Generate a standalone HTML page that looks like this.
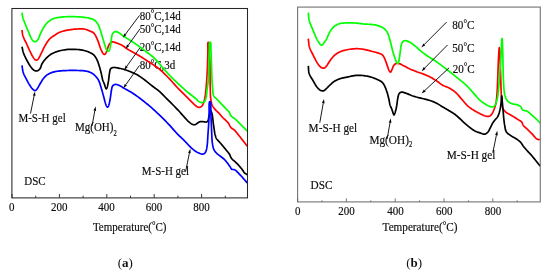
<!DOCTYPE html>
<html><head><meta charset="utf-8"><title>DSC curves</title>
<style>html,body{margin:0;padding:0;background:#fff}body{width:550px;height:275px;position:relative;overflow:hidden}</style>
</head><body>
<svg width="550" height="275" viewBox="0 0 550 275" style="position:absolute;left:0;top:0">
<rect width="550" height="275" fill="#fff"/>
<g font-family="'Liberation Serif',serif" fill="#0d0d0d" stroke="#0d0d0d" stroke-width="0.15">
<text transform="translate(139.70 19.65) scale(1.0 1.14)" font-size="11.0px" text-anchor="start" >80<tspan dy="-2.20" font-size="8.80px">°</tspan><tspan dy="2.20">C,14d</tspan></text>
<text transform="translate(139.70 33.25) scale(1.0 1.14)" font-size="11.0px" text-anchor="start" >50<tspan dy="-2.20" font-size="8.80px">°</tspan><tspan dy="2.20">C,14d</tspan></text>
<text transform="translate(139.70 51.15) scale(1.0 1.14)" font-size="11.0px" text-anchor="start" >20<tspan dy="-2.20" font-size="8.80px">°</tspan><tspan dy="2.20">C,14d</tspan></text>
<text transform="translate(139.70 69.25) scale(1.0 1.14)" font-size="11.0px" text-anchor="start" >80<tspan dy="-2.20" font-size="8.80px">°</tspan><tspan dy="2.20">C,3d</tspan></text>
<text transform="translate(18.40 122.35) scale(1.0 1.14)" font-size="11.0px" text-anchor="start" >M-S-H gel</text>
<text transform="translate(75.00 130.95) scale(1.0 1.14)" font-size="11.0px" text-anchor="start" >Mg(OH)<tspan dy="4.2" font-size="6.60px">2</tspan></text>
<text transform="translate(141.70 174.85) scale(1.0 1.14)" font-size="11.0px" text-anchor="start" >M-S-H gel</text>
<text transform="translate(24.20 185.45) scale(1.0 1.14)" font-size="11.0px" text-anchor="start" >DSC</text>
<text transform="translate(11.80 210.75) scale(1.0 1.14)" font-size="11.0px" text-anchor="middle" >0</text>
<text transform="translate(59.20 210.75) scale(1.0 1.14)" font-size="11.0px" text-anchor="middle" >200</text>
<text transform="translate(106.60 210.75) scale(1.0 1.14)" font-size="11.0px" text-anchor="middle" >400</text>
<text transform="translate(154.00 210.75) scale(1.0 1.14)" font-size="11.0px" text-anchor="middle" >600</text>
<text transform="translate(201.40 210.75) scale(1.0 1.14)" font-size="11.0px" text-anchor="middle" >800</text>
<text transform="translate(92.90 231.45) scale(1.0 1.14)" font-size="11.0px" text-anchor="start" >Temperature(<tspan dy="-2.20" font-size="8.80px">°</tspan><tspan dy="2.20">C)</tspan></text>
</g>
<g fill="none" stroke-linejoin="round" stroke-linecap="butt" stroke-width="1.7" transform="translate(0 0.2)">
<polyline points="22.00,29.80 22.13,30.74 22.23,31.67 22.33,32.60 22.46,33.54 22.64,34.50 22.90,35.50 23.36,36.82 23.95,38.20 24.61,39.62 25.32,41.05 26.03,42.49 26.70,43.90 27.33,45.31 27.97,46.73 28.60,48.16 29.23,49.56 29.87,50.92 30.50,52.20 31.04,53.26 31.60,54.33 32.15,55.36 32.69,56.32 33.21,57.18 33.70,57.90 33.96,58.25 34.22,58.57 34.47,58.85 34.71,59.10 34.95,59.32 35.20,59.50 35.38,59.61 35.57,59.71 35.75,59.79 35.93,59.85 36.12,59.89 36.30,59.90 36.48,59.89 36.67,59.85 36.85,59.79 37.04,59.71 37.22,59.61 37.40,59.50 37.64,59.32 37.87,59.10 38.10,58.85 38.33,58.56 38.56,58.25 38.80,57.90 39.21,57.24 39.62,56.47 40.05,55.61 40.48,54.69 40.94,53.74 41.40,52.80 41.98,51.61 42.58,50.35 43.21,49.04 43.85,47.72 44.51,46.43 45.20,45.20 45.87,44.06 46.56,42.92 47.27,41.80 48.01,40.73 48.78,39.72 49.60,38.80 50.40,38.05 51.24,37.36 52.12,36.72 53.01,36.12 53.87,35.55 54.70,35.00 55.34,34.55 55.93,34.13 56.50,33.73 57.10,33.34 57.76,32.97 58.50,32.60 59.75,32.08 61.17,31.57 62.70,31.09 64.29,30.65 65.91,30.25 67.50,29.90 69.17,29.60 70.89,29.36 72.64,29.16 74.37,29.01 76.04,28.89 77.60,28.80 78.75,28.73 79.85,28.66 80.91,28.62 81.95,28.62 82.97,28.67 84.00,28.80 85.04,29.03 86.09,29.34 87.13,29.71 88.14,30.11 89.10,30.52 90.00,30.90 90.67,31.16 91.30,31.40 91.91,31.64 92.49,31.91 93.05,32.26 93.60,32.70 94.30,33.48 94.96,34.43 95.57,35.50 96.16,36.67 96.74,37.88 97.30,39.10 97.96,40.67 98.58,42.41 99.18,44.22 99.76,46.00 100.33,47.66 100.90,49.10 101.27,49.95 101.62,50.77 101.97,51.54 102.32,52.23 102.70,52.82 103.10,53.30 103.39,53.57 103.69,53.81 104.01,54.02 104.32,54.16 104.62,54.23 104.90,54.20 105.24,53.97 105.56,53.53 105.85,52.95 106.13,52.29 106.41,51.58 106.70,50.90 107.09,49.93 107.45,48.81 107.82,47.64 108.20,46.48 108.62,45.41 109.10,44.50 109.49,43.91 109.90,43.34 110.34,42.83 110.79,42.39 111.28,42.04 111.80,41.80 112.35,41.70 112.92,41.71 113.52,41.82 114.15,41.99 114.81,42.19 115.50,42.40 116.60,42.75 117.81,43.21 119.08,43.73 120.36,44.31 121.59,44.90 122.70,45.50 123.52,46.01 124.26,46.53 124.96,47.08 125.67,47.64 126.43,48.21 127.30,48.80 128.76,49.68 130.39,50.59 132.15,51.54 133.96,52.51 135.76,53.50 137.50,54.50 139.19,55.52 140.86,56.56 142.53,57.61 144.20,58.68 145.89,59.78 147.60,60.90 149.50,62.13 151.46,63.38 153.43,64.66 155.39,65.97 157.29,67.31 159.10,68.70 160.72,70.05 162.28,71.44 163.78,72.86 165.26,74.32 166.72,75.80 168.20,77.30 169.74,78.91 171.25,80.58 172.76,82.27 174.26,83.98 175.77,85.66 177.30,87.30 178.82,88.87 180.36,90.42 181.90,91.96 183.44,93.47 184.94,94.95 186.40,96.40 187.71,97.72 189.07,99.08 190.40,100.42 191.64,101.67 192.73,102.75 193.60,103.60 193.89,103.88 194.13,104.11 194.34,104.31 194.54,104.50 194.76,104.69 195.00,104.90 195.33,105.19 195.68,105.50 196.04,105.82 196.41,106.12 196.80,106.38 197.20,106.60 197.60,106.77 198.01,106.92 198.44,107.04 198.86,107.12 199.29,107.15 199.70,107.10 200.16,106.96 200.62,106.74 201.08,106.46 201.52,106.11 201.93,105.72 202.30,105.30 202.70,104.71 203.04,104.03 203.34,103.28 203.61,102.49 203.86,101.69 204.10,100.90 204.33,100.08 204.54,99.25 204.73,98.40 204.89,97.55 205.05,96.68 205.20,95.80 205.35,94.88 205.47,93.96 205.58,93.02 205.69,92.07 205.79,91.06 205.90,90.00 206.04,88.51 206.18,86.94 206.32,85.30 206.45,83.58 206.58,81.82 206.70,80.00 206.85,77.68 207.00,75.23 207.14,72.69 207.27,70.11 207.39,67.54 207.50,65.00 207.59,62.44 207.67,59.82 207.73,57.20 207.79,54.64 207.85,52.22 207.90,50.00 207.90,48.41 207.86,46.76 207.81,45.18 207.81,43.80 207.89,42.76 208.10,42.20 208.19,42.13 208.29,42.09 208.40,42.08 208.50,42.09 208.61,42.13 208.70,42.20 208.99,42.98 209.16,44.48 209.24,46.47 209.29,48.71 209.33,50.96 209.40,53.00 209.51,54.95 209.63,56.90 209.74,58.88 209.84,60.88 209.93,62.91 210.00,65.00 210.05,67.44 210.07,69.99 210.08,72.58 210.08,75.16 210.08,77.66 210.10,80.00 210.13,81.80 210.15,83.54 210.18,85.22 210.22,86.86 210.26,88.45 210.30,90.00 210.33,91.30 210.36,92.57 210.40,93.81 210.44,95.01 210.51,96.17 210.60,97.30 210.70,98.22 210.80,99.12 210.92,99.99 211.06,100.83 211.22,101.64 211.40,102.40 211.56,102.99 211.74,103.54 211.92,104.07 212.13,104.58 212.35,105.09 212.60,105.60 212.87,106.12 213.16,106.63 213.47,107.14 213.80,107.64 214.18,108.16 214.60,108.70 215.31,109.51 216.16,110.36 217.08,111.24 218.01,112.13 218.91,112.99 219.70,113.80 220.24,114.41 220.73,114.98 221.19,115.55 221.65,116.11 222.15,116.69 222.70,117.30 223.54,118.14 224.49,119.02 225.49,119.93 226.48,120.85 227.40,121.78 228.20,122.70 228.73,123.48 229.18,124.29 229.58,125.10 229.97,125.89 230.40,126.63 230.90,127.30 231.44,127.82 232.02,128.25 232.63,128.65 233.26,129.05 233.89,129.48 234.50,130.00 235.25,130.76 235.98,131.59 236.72,132.49 237.48,133.44 238.26,134.45 239.10,135.50 240.34,137.05 241.67,138.74 243.06,140.53 244.48,142.37 245.91,144.21 247.30,146.00" stroke="#ff0000"/>
<polyline points="22.00,12.40 22.14,13.29 22.26,14.18 22.39,15.06 22.53,15.95 22.69,16.83 22.90,17.70 23.15,18.55 23.44,19.38 23.75,20.20 24.08,21.03 24.44,21.89 24.80,22.80 25.27,23.99 25.78,25.24 26.32,26.53 26.87,27.85 27.43,29.18 28.00,30.50 28.62,31.97 29.26,33.53 29.92,35.11 30.58,36.61 31.21,37.94 31.80,39.00 32.09,39.45 32.37,39.85 32.65,40.20 32.92,40.51 33.20,40.78 33.50,41.00 33.74,41.15 33.99,41.27 34.24,41.37 34.49,41.44 34.75,41.49 35.00,41.50 35.25,41.49 35.51,41.44 35.76,41.37 36.01,41.28 36.26,41.15 36.50,41.00 36.80,40.75 37.09,40.45 37.37,40.09 37.65,39.70 37.92,39.26 38.20,38.80 38.61,38.01 39.01,37.10 39.40,36.11 39.81,35.07 40.24,34.02 40.70,33.00 41.26,31.84 41.86,30.63 42.49,29.41 43.14,28.21 43.81,27.06 44.50,26.00 45.10,25.15 45.71,24.34 46.34,23.57 46.99,22.84 47.67,22.15 48.40,21.50 49.17,20.88 49.98,20.30 50.82,19.75 51.69,19.25 52.58,18.80 53.50,18.40 54.48,18.06 55.48,17.80 56.51,17.59 57.58,17.41 58.67,17.26 59.80,17.10 61.19,16.92 62.65,16.77 64.15,16.64 65.67,16.53 67.20,16.45 68.70,16.40 70.20,16.38 71.72,16.38 73.24,16.42 74.74,16.47 76.20,16.53 77.60,16.60 78.73,16.66 79.82,16.72 80.88,16.79 81.92,16.87 82.96,16.98 84.00,17.10 85.03,17.24 86.05,17.39 87.08,17.55 88.08,17.74 89.06,17.95 90.00,18.20 90.81,18.43 91.60,18.66 92.37,18.91 93.11,19.21 93.82,19.56 94.50,20.00 95.21,20.58 95.88,21.24 96.51,21.98 97.11,22.78 97.67,23.62 98.20,24.50 98.75,25.58 99.23,26.73 99.67,27.95 100.08,29.22 100.48,30.51 100.90,31.80 101.37,33.27 101.82,34.79 102.27,36.35 102.71,37.90 103.16,39.43 103.60,40.90 104.01,42.21 104.42,43.55 104.83,44.87 105.23,46.11 105.62,47.24 106.00,48.20 106.20,48.69 106.40,49.13 106.59,49.54 106.78,49.91 106.98,50.23 107.20,50.50 107.36,50.66 107.52,50.81 107.69,50.93 107.86,51.03 108.03,51.09 108.20,51.10 108.37,51.06 108.55,50.97 108.72,50.83 108.89,50.67 109.05,50.49 109.20,50.30 109.37,50.03 109.52,49.74 109.65,49.41 109.77,49.05 109.88,48.64 110.00,48.20 110.21,47.24 110.40,46.08 110.57,44.80 110.74,43.46 110.92,42.14 111.10,40.90 111.26,39.77 111.40,38.62 111.54,37.48 111.70,36.38 111.92,35.38 112.20,34.50 112.44,33.95 112.70,33.44 112.98,32.96 113.29,32.54 113.63,32.18 114.00,31.90 114.35,31.71 114.73,31.58 115.13,31.49 115.55,31.45 115.97,31.46 116.40,31.50 116.97,31.64 117.58,31.89 118.21,32.20 118.83,32.56 119.44,32.94 120.00,33.30 120.47,33.63 120.89,33.98 121.29,34.34 121.71,34.71 122.17,35.10 122.70,35.50 123.70,36.17 124.86,36.89 126.12,37.65 127.43,38.43 128.74,39.21 130.00,40.00 131.25,40.80 132.50,41.62 133.75,42.44 135.01,43.28 136.26,44.13 137.50,45.00 138.77,45.91 140.02,46.83 141.27,47.77 142.53,48.73 143.80,49.70 145.10,50.70 146.53,51.77 147.97,52.83 149.43,53.91 150.92,55.05 152.44,56.30 154.00,57.70 156.27,59.98 158.67,62.64 161.13,65.49 163.59,68.38 165.97,71.14 168.20,73.60 169.81,75.29 171.35,76.87 172.84,78.37 174.31,79.82 175.79,81.26 177.30,82.70 178.80,84.12 180.32,85.52 181.84,86.90 183.36,88.26 184.88,89.60 186.40,90.90 187.87,92.12 189.38,93.33 190.89,94.52 192.35,95.67 193.74,96.77 195.00,97.80 195.83,98.53 196.60,99.26 197.32,99.96 198.02,100.60 198.71,101.16 199.40,101.60 199.90,101.85 200.40,102.06 200.89,102.23 201.38,102.35 201.85,102.41 202.30,102.40 202.70,102.33 203.10,102.22 203.48,102.05 203.85,101.84 204.19,101.59 204.50,101.30 204.82,100.88 205.09,100.37 205.33,99.80 205.54,99.20 205.72,98.59 205.90,98.00 206.06,97.42 206.20,96.83 206.32,96.24 206.42,95.64 206.51,95.03 206.60,94.40 206.68,93.71 206.75,93.03 206.80,92.34 206.85,91.61 206.92,90.84 207.00,90.00 207.18,88.59 207.40,87.04 207.65,85.38 207.90,83.64 208.12,81.83 208.30,80.00 208.45,77.68 208.56,75.23 208.62,72.69 208.68,70.11 208.73,67.54 208.80,65.00 208.88,62.44 208.96,59.82 209.05,57.20 209.13,54.64 209.21,52.22 209.30,50.00 209.33,48.42 209.31,46.77 209.30,45.20 209.33,43.83 209.45,42.79 209.70,42.20 209.82,42.12 209.95,42.07 210.10,42.05 210.24,42.07 210.38,42.12 210.50,42.20 210.76,42.79 210.90,43.83 210.95,45.20 210.95,46.77 210.96,48.42 211.00,50.00 211.10,52.22 211.18,54.64 211.26,57.20 211.34,59.82 211.42,62.44 211.50,65.00 211.58,67.54 211.65,70.11 211.72,72.69 211.79,75.23 211.89,77.68 212.00,80.00 212.12,81.83 212.25,83.63 212.39,85.38 212.54,87.04 212.68,88.59 212.80,90.00 212.86,90.86 212.89,91.66 212.93,92.42 212.98,93.13 213.06,93.79 213.20,94.40 213.33,94.81 213.48,95.17 213.65,95.52 213.84,95.84 214.06,96.17 214.30,96.50 214.63,96.90 215.01,97.27 215.42,97.64 215.86,98.03 216.32,98.44 216.80,98.90 217.55,99.67 218.37,100.54 219.24,101.46 220.13,102.42 221.03,103.38 221.90,104.30 222.77,105.21 223.68,106.16 224.59,107.10 225.46,108.01 226.28,108.85 227.00,109.60 227.41,110.01 227.79,110.37 228.14,110.70 228.47,111.03 228.79,111.39 229.10,111.80 229.42,112.35 229.68,112.97 229.93,113.61 230.19,114.27 230.50,114.90 230.90,115.50 231.51,116.14 232.23,116.73 233.03,117.29 233.86,117.85 234.70,118.45 235.50,119.10 236.39,119.92 237.27,120.78 238.16,121.69 239.06,122.62 239.97,123.56 240.90,124.50 241.94,125.54 242.99,126.59 244.07,127.67 245.15,128.75 246.23,129.83 247.30,130.90" stroke="#00ff00"/>
<polyline points="22.00,46.50 22.23,47.55 22.45,48.60 22.66,49.64 22.90,50.69 23.17,51.74 23.50,52.80 23.93,53.96 24.42,55.14 24.96,56.32 25.52,57.50 26.11,58.66 26.70,59.80 27.30,60.92 27.93,62.06 28.58,63.19 29.23,64.27 29.88,65.29 30.50,66.20 30.94,66.82 31.38,67.40 31.81,67.94 32.24,68.44 32.67,68.90 33.10,69.30 33.42,69.57 33.74,69.80 34.07,70.02 34.39,70.20 34.70,70.36 35.00,70.50 35.22,70.59 35.44,70.66 35.66,70.72 35.87,70.76 36.08,70.79 36.30,70.80 36.51,70.79 36.72,70.77 36.94,70.74 37.15,70.68 37.37,70.60 37.60,70.50 37.99,70.28 38.42,70.00 38.87,69.67 39.31,69.29 39.73,68.86 40.10,68.40 40.48,67.74 40.78,66.97 41.05,66.14 41.31,65.27 41.62,64.42 42.00,63.60 42.52,62.73 43.09,61.85 43.72,60.98 44.38,60.13 45.08,59.30 45.80,58.50 46.57,57.70 47.37,56.91 48.20,56.14 49.07,55.41 49.97,54.73 50.90,54.10 51.89,53.52 52.91,53.00 53.98,52.52 55.06,52.08 56.17,51.68 57.30,51.30 58.51,50.93 59.74,50.59 61.00,50.29 62.28,50.03 63.58,49.80 64.90,49.60 66.33,49.42 67.79,49.27 69.26,49.17 70.76,49.10 72.27,49.08 73.80,49.10 75.50,49.18 77.29,49.32 79.09,49.50 80.85,49.73 82.50,50.00 84.00,50.30 84.97,50.53 85.86,50.78 86.71,51.05 87.51,51.34 88.31,51.66 89.10,52.00 89.88,52.35 90.66,52.71 91.42,53.09 92.15,53.50 92.85,53.97 93.50,54.50 94.13,55.12 94.71,55.81 95.24,56.54 95.75,57.32 96.23,58.15 96.70,59.00 97.21,60.06 97.68,61.19 98.12,62.37 98.53,63.59 98.92,64.81 99.30,66.00 99.66,67.16 99.99,68.32 100.31,69.49 100.61,70.66 100.91,71.83 101.20,73.00 101.48,74.19 101.73,75.41 101.98,76.63 102.24,77.83 102.50,78.96 102.80,80.00 103.05,80.73 103.32,81.40 103.61,82.04 103.89,82.66 104.15,83.28 104.40,83.90 104.60,84.50 104.79,85.11 104.97,85.71 105.14,86.29 105.31,86.83 105.50,87.30 105.63,87.61 105.76,87.92 105.90,88.22 106.03,88.47 106.17,88.64 106.30,88.70 106.44,88.64 106.57,88.47 106.71,88.22 106.85,87.92 106.98,87.61 107.10,87.30 107.26,86.83 107.41,86.29 107.54,85.72 107.66,85.11 107.78,84.50 107.90,83.90 108.03,83.28 108.15,82.66 108.26,82.04 108.37,81.40 108.49,80.72 108.60,80.00 108.74,78.93 108.88,77.76 109.01,76.53 109.15,75.29 109.31,74.10 109.50,73.00 109.65,72.15 109.78,71.30 109.93,70.48 110.11,69.71 110.36,69.05 110.70,68.50 111.04,68.17 111.42,67.90 111.84,67.68 112.30,67.52 112.79,67.39 113.30,67.30 114.04,67.25 114.84,67.29 115.70,67.40 116.60,67.56 117.50,67.73 118.40,67.90 119.41,68.09 120.44,68.30 121.48,68.53 122.54,68.79 123.61,69.08 124.70,69.40 125.96,69.82 127.25,70.28 128.57,70.79 129.88,71.32 131.16,71.86 132.40,72.40 133.50,72.88 134.57,73.36 135.61,73.85 136.65,74.37 137.67,74.91 138.70,75.50 139.77,76.18 140.82,76.89 141.86,77.64 142.91,78.43 143.98,79.25 145.10,80.10 146.53,81.20 148.06,82.39 149.62,83.64 151.16,84.87 152.64,86.04 154.00,87.10 154.92,87.78 155.76,88.38 156.57,88.94 157.37,89.52 158.20,90.16 159.10,90.90 160.49,92.17 161.97,93.61 163.51,95.18 165.09,96.81 166.66,98.43 168.20,100.00 169.73,101.52 171.27,103.03 172.81,104.55 174.34,106.07 175.84,107.58 177.30,109.10 178.67,110.58 180.04,112.10 181.38,113.63 182.67,115.11 183.89,116.48 185.00,117.70 185.67,118.42 186.28,119.09 186.86,119.71 187.42,120.29 187.99,120.85 188.60,121.40 189.20,121.92 189.82,122.45 190.45,122.95 191.07,123.41 191.69,123.80 192.30,124.10 192.76,124.27 193.22,124.41 193.67,124.51 194.12,124.57 194.56,124.56 195.00,124.50 195.47,124.33 195.92,124.05 196.37,123.72 196.82,123.35 197.26,123.00 197.70,122.70 198.08,122.46 198.45,122.23 198.82,122.00 199.20,121.80 199.59,121.63 200.00,121.50 200.49,121.42 201.02,121.39 201.56,121.39 202.11,121.43 202.66,121.47 203.20,121.50 203.75,121.55 204.33,121.65 204.90,121.75 205.45,121.83 205.96,121.85 206.40,121.80 206.67,121.72 206.91,121.62 207.12,121.49 207.33,121.33 207.52,121.14 207.70,120.90 207.99,120.33 208.22,119.59 208.42,118.73 208.60,117.81 208.79,116.88 209.00,116.00 209.25,114.99 209.51,113.84 209.78,112.67 210.05,111.64 210.33,110.90 210.60,110.60 210.75,110.65 210.91,110.82 211.07,111.07 211.22,111.37 211.37,111.69 211.50,112.00 211.66,112.41 211.81,112.86 211.94,113.34 212.06,113.85 212.18,114.41 212.30,115.00 212.47,116.03 212.63,117.21 212.77,118.48 212.91,119.79 213.05,121.08 213.20,122.30 213.35,123.38 213.49,124.45 213.64,125.51 213.79,126.55 213.95,127.58 214.10,128.60 214.24,129.55 214.37,130.50 214.50,131.43 214.64,132.35 214.81,133.24 215.00,134.10 215.19,134.85 215.41,135.59 215.63,136.32 215.87,137.01 216.13,137.64 216.40,138.20 216.59,138.53 216.79,138.81 216.99,139.07 217.20,139.32 217.44,139.59 217.70,139.90 218.20,140.49 218.78,141.15 219.41,141.85 220.07,142.59 220.74,143.35 221.40,144.10 222.14,144.96 222.89,145.86 223.66,146.78 224.43,147.70 225.18,148.61 225.90,149.50 226.55,150.29 227.19,151.06 227.82,151.82 228.43,152.58 228.99,153.34 229.50,154.10 229.86,154.75 230.14,155.40 230.39,156.04 230.66,156.69 230.98,157.34 231.40,158.00 232.17,158.91 233.11,159.82 234.15,160.74 235.23,161.67 236.31,162.62 237.30,163.60 238.27,164.65 239.26,165.77 240.23,166.91 241.15,168.03 241.99,169.07 242.70,170.00 243.06,170.52 243.35,171.01 243.61,171.47 243.87,171.90 244.16,172.31 244.50,172.70 244.91,173.05 245.36,173.37 245.84,173.66 246.33,173.93 246.82,174.21 247.30,174.50" stroke="#000000"/>
<polyline points="22.00,65.20 22.18,66.37 22.34,67.56 22.49,68.74 22.67,69.91 22.90,71.07 23.20,72.20 23.58,73.29 24.03,74.36 24.52,75.41 25.04,76.45 25.58,77.48 26.10,78.50 26.61,79.50 27.13,80.50 27.66,81.48 28.19,82.45 28.74,83.39 29.30,84.30 29.83,85.11 30.38,85.93 30.94,86.73 31.49,87.47 32.02,88.14 32.50,88.70 32.77,88.99 33.03,89.24 33.28,89.47 33.52,89.67 33.76,89.85 34.00,90.00 34.17,90.10 34.34,90.20 34.51,90.28 34.67,90.34 34.83,90.39 35.00,90.40 35.17,90.39 35.33,90.35 35.50,90.29 35.67,90.21 35.83,90.12 36.00,90.00 36.25,89.78 36.49,89.52 36.74,89.21 36.98,88.86 37.24,88.49 37.50,88.10 37.90,87.47 38.32,86.76 38.75,85.99 39.19,85.19 39.64,84.39 40.10,83.60 40.60,82.75 41.10,81.88 41.62,81.00 42.16,80.13 42.71,79.29 43.30,78.50 43.88,77.79 44.47,77.11 45.08,76.45 45.72,75.83 46.39,75.24 47.10,74.70 47.87,74.19 48.68,73.72 49.52,73.28 50.40,72.89 51.29,72.53 52.20,72.20 53.18,71.89 54.19,71.64 55.22,71.42 56.28,71.23 57.37,71.06 58.50,70.90 59.90,70.73 61.36,70.60 62.86,70.50 64.40,70.42 65.95,70.35 67.50,70.30 69.18,70.26 70.91,70.24 72.66,70.23 74.38,70.24 76.04,70.27 77.60,70.30 78.76,70.32 79.87,70.34 80.94,70.37 81.98,70.42 83.00,70.49 84.00,70.60 84.90,70.73 85.78,70.87 86.65,71.03 87.49,71.23 88.31,71.45 89.10,71.70 89.79,71.96 90.45,72.24 91.10,72.54 91.72,72.87 92.32,73.22 92.90,73.60 93.43,73.99 93.93,74.41 94.42,74.85 94.89,75.31 95.34,75.80 95.80,76.30 96.30,76.86 96.79,77.44 97.27,78.03 97.73,78.67 98.18,79.35 98.60,80.10 99.11,81.19 99.56,82.39 99.99,83.67 100.40,85.01 100.80,86.36 101.20,87.70 101.64,89.15 102.07,90.65 102.49,92.17 102.91,93.68 103.31,95.17 103.70,96.60 104.04,97.86 104.36,99.12 104.68,100.37 104.99,101.56 105.30,102.64 105.60,103.60 105.78,104.13 105.96,104.63 106.14,105.10 106.32,105.52 106.50,105.89 106.70,106.20 106.83,106.37 106.96,106.54 107.09,106.68 107.23,106.80 107.37,106.87 107.50,106.90 107.64,106.87 107.77,106.80 107.91,106.68 108.05,106.54 108.18,106.37 108.30,106.20 108.48,105.89 108.64,105.52 108.78,105.10 108.92,104.63 109.06,104.13 109.20,103.60 109.43,102.63 109.66,101.51 109.88,100.30 110.10,99.04 110.31,97.79 110.50,96.60 110.66,95.52 110.80,94.44 110.94,93.36 111.07,92.31 111.22,91.28 111.40,90.30 111.55,89.47 111.69,88.64 111.84,87.82 112.02,87.06 112.27,86.38 112.60,85.80 112.94,85.40 113.33,85.05 113.75,84.74 114.21,84.49 114.70,84.31 115.20,84.20 115.86,84.19 116.59,84.30 117.35,84.51 118.12,84.79 118.88,85.10 119.60,85.40 120.26,85.71 120.88,86.05 121.48,86.43 122.10,86.83 122.76,87.25 123.50,87.70 124.78,88.42 126.21,89.21 127.74,90.06 129.32,90.95 130.89,91.87 132.40,92.80 133.90,93.79 135.40,94.83 136.89,95.90 138.37,96.98 139.84,98.09 141.30,99.20 142.77,100.33 144.22,101.46 145.67,102.61 147.11,103.78 148.56,104.98 150.00,106.20 151.52,107.52 153.04,108.87 154.56,110.25 156.08,111.65 157.60,113.07 159.10,114.50 160.63,115.97 162.16,117.46 163.68,118.97 165.19,120.50 166.70,122.04 168.20,123.60 169.74,125.25 171.28,126.96 172.81,128.68 174.33,130.39 175.83,132.04 177.30,133.60 178.55,134.86 179.80,136.08 181.03,137.25 182.23,138.38 183.39,139.50 184.50,140.60 185.39,141.53 186.24,142.44 187.07,143.34 187.87,144.22 188.68,145.07 189.50,145.90 190.26,146.64 191.02,147.37 191.78,148.07 192.55,148.75 193.32,149.40 194.10,150.00 194.84,150.53 195.58,151.03 196.33,151.51 197.09,151.95 197.84,152.35 198.60,152.70 199.30,153.00 200.01,153.30 200.73,153.57 201.43,153.77 202.09,153.89 202.70,153.90 203.14,153.82 203.56,153.69 203.96,153.51 204.34,153.28 204.68,153.01 205.00,152.70 205.32,152.29 205.59,151.81 205.82,151.28 206.03,150.71 206.22,150.11 206.40,149.50 206.61,148.71 206.78,147.87 206.93,146.99 207.06,146.06 207.18,145.10 207.30,144.10 207.44,142.73 207.54,141.26 207.64,139.73 207.72,138.15 207.80,136.57 207.90,135.00 208.01,133.36 208.14,131.70 208.26,130.03 208.38,128.35 208.49,126.67 208.60,125.00 208.70,123.35 208.78,121.72 208.87,120.09 208.95,118.44 209.02,116.75 209.10,115.00 209.14,112.63 209.12,109.87 209.09,107.06 209.13,104.52 209.28,102.59 209.60,101.60 209.71,101.52 209.82,101.47 209.95,101.46 210.07,101.47 210.19,101.52 210.30,101.60 210.63,102.59 210.80,104.52 210.85,107.06 210.85,109.87 210.85,112.63 210.90,115.00 210.99,116.75 211.07,118.44 211.16,120.09 211.24,121.72 211.32,123.35 211.40,125.00 211.47,126.68 211.53,128.39 211.59,130.10 211.66,131.78 211.72,133.42 211.80,135.00 211.86,136.29 211.92,137.54 211.98,138.76 212.06,139.95 212.16,141.13 212.30,142.30 212.45,143.40 212.61,144.51 212.80,145.61 213.02,146.67 213.28,147.67 213.60,148.60 213.90,149.30 214.22,149.94 214.57,150.54 214.96,151.13 215.40,151.71 215.90,152.30 216.66,153.07 217.57,153.85 218.55,154.61 219.55,155.37 220.52,156.10 221.40,156.80 222.04,157.33 222.65,157.81 223.24,158.28 223.82,158.77 224.40,159.30 225.00,159.90 225.85,160.86 226.74,161.96 227.64,163.15 228.52,164.33 229.32,165.44 230.00,166.40 230.35,166.94 230.63,167.47 230.89,167.96 231.15,168.41 231.44,168.80 231.80,169.10 232.19,169.26 232.61,169.31 233.07,169.31 233.54,169.30 234.02,169.35 234.50,169.50 235.22,169.92 235.95,170.48 236.70,171.17 237.47,171.93 238.27,172.75 239.10,173.60 240.35,174.89 241.68,176.35 243.07,177.91 244.49,179.52 245.91,181.14 247.30,182.70" stroke="#0000ff"/>
</g>
<line x1="139.5" y1="15.4" x2="125.43" y2="34.27" stroke="#000" stroke-width="0.9"/><polygon points="122.8,37.8 124.35,33.47 126.51,35.08" fill="#000"/>
<line x1="139.9" y1="29" x2="128.17" y2="45.33" stroke="#000" stroke-width="0.9"/><polygon points="125.6,48.9 127.07,44.54 129.26,46.11" fill="#000"/>
<line x1="139.9" y1="47.9" x2="126.76" y2="66.32" stroke="#000" stroke-width="0.9"/><polygon points="124.2,69.9 125.66,65.53 127.85,67.10" fill="#000"/>
<line x1="139.5" y1="65.4" x2="125.84" y2="84.71" stroke="#000" stroke-width="0.9"/><polygon points="123.3,88.3 124.74,83.93 126.94,85.49" fill="#000"/>
<line x1="30.5" y1="113.5" x2="34.12" y2="95.81" stroke="#000" stroke-width="0.9"/><polygon points="35,91.5 35.44,96.08 32.80,95.54" fill="#000"/>
<line x1="92" y1="126" x2="94.81" y2="110.73" stroke="#000" stroke-width="0.9"/><polygon points="95.6,106.4 96.13,110.97 93.48,110.48" fill="#000"/>
<line x1="185.6" y1="171.6" x2="189.42" y2="153.01" stroke="#000" stroke-width="0.9"/><polygon points="190.3,148.7 190.74,153.28 188.09,152.74" fill="#000"/>
<rect x="11.9" y="8.5" width="235.6" height="189.4" fill="none" stroke="#262626" stroke-width="1.05"/>
<path d="M12.00,197.9v-3.9 M35.70,197.9v-2.2 M59.40,197.9v-3.9 M83.10,197.9v-2.2 M106.80,197.9v-3.9 M130.50,197.9v-2.2 M154.20,197.9v-3.9 M177.90,197.9v-2.2 M201.60,197.9v-3.9 M225.30,197.9v-2.2" stroke="#262626" stroke-width="0.9" fill="none"/>
<text x="125.25" y="267.4" text-anchor="middle" font-family="'Liberation Serif',serif" font-size="13px" fill="#111">(<tspan font-weight="bold">a</tspan>)</text>
<g font-family="'Liberation Serif',serif" fill="#0d0d0d" stroke="#0d0d0d" stroke-width="0.15">
<text transform="translate(452.30 29.45) scale(1.0 1.19)" font-size="11.1px" text-anchor="start" >80<tspan dy="-2.22" font-size="8.88px">°</tspan><tspan dy="2.22">C</tspan></text>
<text transform="translate(452.30 52.30) scale(1.0 1.19)" font-size="11.1px" text-anchor="start" >50<tspan dy="-2.22" font-size="8.88px">°</tspan><tspan dy="2.22">C</tspan></text>
<text transform="translate(452.70 72.75) scale(1.0 1.19)" font-size="11.1px" text-anchor="start" >20<tspan dy="-2.22" font-size="8.88px">°</tspan><tspan dy="2.22">C</tspan></text>
<text transform="translate(308.60 131.65) scale(1.0 1.17)" font-size="11.3px" text-anchor="start" >M-S-H gel</text>
<text transform="translate(369.40 143.55) scale(1.0 1.17)" font-size="11.3px" text-anchor="start" >Mg(OH)<tspan dy="3.2" font-size="6.55px">2</tspan></text>
<text transform="translate(446.80 158.65) scale(1.0 1.17)" font-size="11.3px" text-anchor="start" >M-S-H gel</text>
<text transform="translate(310.50 188.95) scale(1.0 1.17)" font-size="11.3px" text-anchor="start" >DSC</text>
<text transform="translate(297.80 215.45) scale(1.0 1.14)" font-size="11.0px" text-anchor="middle" >0</text>
<text transform="translate(346.60 215.45) scale(1.0 1.14)" font-size="11.0px" text-anchor="middle" >200</text>
<text transform="translate(395.40 215.45) scale(1.0 1.14)" font-size="11.0px" text-anchor="middle" >400</text>
<text transform="translate(444.20 215.45) scale(1.0 1.14)" font-size="11.0px" text-anchor="middle" >600</text>
<text transform="translate(493.00 215.45) scale(1.0 1.14)" font-size="11.0px" text-anchor="middle" >800</text>
<text transform="translate(382.60 231.45) scale(1.0 1.12)" font-size="11.2px" text-anchor="start" >Temperature(<tspan dy="-2.24" font-size="8.96px">°</tspan><tspan dy="2.24">C)</tspan></text>
</g>
<g fill="none" stroke-linejoin="round" stroke-linecap="butt" stroke-width="1.7" transform="translate(0 0.2)">
<polyline points="308.30,38.40 308.47,39.86 308.60,41.32 308.74,42.79 308.91,44.24 309.15,45.68 309.50,47.10 309.99,48.52 310.58,49.92 311.25,51.30 311.97,52.67 312.69,54.03 313.40,55.40 314.10,56.82 314.83,58.29 315.56,59.75 316.31,61.16 317.06,62.46 317.80,63.60 318.34,64.33 318.90,65.02 319.46,65.65 320.00,66.22 320.52,66.71 321.00,67.10 321.25,67.28 321.49,67.42 321.73,67.54 321.95,67.64 322.18,67.72 322.40,67.80 322.59,67.86 322.77,67.91 322.95,67.96 323.13,67.99 323.31,68.00 323.50,68.00 323.71,67.98 323.93,67.95 324.14,67.89 324.36,67.82 324.58,67.72 324.80,67.60 325.11,67.37 325.42,67.08 325.72,66.74 326.03,66.36 326.36,65.94 326.70,65.50 327.27,64.71 327.86,63.80 328.49,62.80 329.14,61.77 329.81,60.75 330.50,59.80 331.19,58.90 331.90,58.00 332.63,57.11 333.38,56.25 334.17,55.45 335.00,54.70 335.86,54.02 336.76,53.39 337.69,52.80 338.66,52.26 339.66,51.76 340.70,51.30 341.89,50.85 343.13,50.46 344.41,50.11 345.73,49.81 347.06,49.54 348.40,49.30 349.85,49.07 351.33,48.87 352.84,48.70 354.35,48.58 355.85,48.51 357.30,48.50 358.63,48.55 359.94,48.65 361.24,48.80 362.51,48.98 363.77,49.18 365.00,49.40 366.11,49.62 367.19,49.87 368.25,50.15 369.30,50.43 370.34,50.72 371.40,51.00 372.47,51.27 373.55,51.54 374.63,51.81 375.69,52.09 376.72,52.38 377.70,52.70 378.52,52.97 379.34,53.22 380.13,53.49 380.88,53.79 381.57,54.16 382.20,54.60 382.73,55.12 383.19,55.70 383.59,56.33 383.96,57.02 384.33,57.74 384.70,58.50 385.17,59.55 385.63,60.71 386.06,61.93 386.49,63.17 386.90,64.38 387.30,65.50 387.63,66.42 387.94,67.35 388.25,68.26 388.55,69.11 388.87,69.87 389.20,70.50 389.41,70.84 389.63,71.17 389.85,71.47 390.07,71.71 390.29,71.86 390.50,71.90 390.76,71.75 391.02,71.41 391.27,70.94 391.51,70.39 391.76,69.82 392.00,69.30 392.27,68.70 392.52,68.03 392.76,67.35 393.01,66.68 393.29,66.05 393.60,65.50 393.87,65.10 394.15,64.73 394.44,64.38 394.76,64.07 395.11,63.81 395.50,63.60 396.05,63.42 396.68,63.32 397.35,63.29 398.05,63.31 398.74,63.38 399.40,63.50 400.04,63.68 400.65,63.93 401.26,64.24 401.88,64.58 402.52,64.94 403.20,65.30 404.16,65.79 405.18,66.34 406.24,66.92 407.33,67.51 408.42,68.08 409.50,68.60 410.54,69.07 411.58,69.51 412.62,69.93 413.68,70.35 414.77,70.77 415.90,71.20 417.32,71.73 418.85,72.26 420.41,72.81 421.96,73.35 423.44,73.88 424.80,74.40 425.75,74.78 426.63,75.14 427.47,75.50 428.30,75.86 429.13,76.26 430.00,76.70 431.04,77.27 432.11,77.88 433.18,78.54 434.26,79.22 435.34,79.91 436.40,80.60 437.46,81.32 438.50,82.09 439.53,82.87 440.58,83.63 441.63,84.35 442.70,85.00 443.75,85.53 444.82,85.99 445.89,86.41 446.97,86.82 448.05,87.28 449.10,87.80 450.19,88.41 451.28,89.06 452.36,89.74 453.43,90.47 454.48,91.26 455.50,92.10 456.60,93.13 457.66,94.26 458.70,95.45 459.72,96.68 460.75,97.91 461.80,99.10 462.85,100.29 463.90,101.52 464.96,102.74 466.02,103.93 467.10,105.06 468.20,106.10 469.22,106.95 470.27,107.74 471.33,108.48 472.39,109.19 473.45,109.85 474.50,110.50 475.44,111.06 476.38,111.59 477.32,112.09 478.25,112.58 479.18,113.04 480.10,113.50 480.96,113.94 481.83,114.38 482.69,114.81 483.55,115.21 484.38,115.55 485.20,115.80 485.87,115.96 486.53,116.10 487.19,116.20 487.83,116.24 488.43,116.21 489.00,116.10 489.47,115.92 489.92,115.68 490.34,115.38 490.74,115.03 491.12,114.63 491.50,114.20 491.99,113.53 492.46,112.75 492.91,111.88 493.33,110.97 493.72,110.03 494.10,109.10 494.48,108.10 494.84,107.06 495.17,106.00 495.48,104.92 495.75,103.82 496.00,102.70 496.22,101.50 496.40,100.30 496.54,99.08 496.66,97.80 496.78,96.45 496.90,95.00 497.07,92.70 497.22,90.18 497.35,87.50 497.47,84.72 497.58,81.90 497.70,79.10 497.83,75.94 497.94,72.60 498.05,69.22 498.16,65.91 498.28,62.79 498.40,60.00 498.49,58.26 498.58,56.60 498.68,55.03 498.77,53.57 498.86,52.22 498.95,51.00 499.00,50.25 499.03,49.49 499.07,48.77 499.11,48.16 499.17,47.72 499.25,47.50 499.27,47.49 499.28,47.48 499.30,47.48 499.32,47.48 499.33,47.49 499.35,47.50 499.44,47.72 499.51,48.16 499.58,48.77 499.64,49.49 499.69,50.25 499.75,51.00 499.84,52.24 499.92,53.63 500.00,55.14 500.07,56.73 500.13,58.36 500.20,60.00 500.27,61.97 500.34,64.00 500.41,66.09 500.47,68.24 500.53,70.44 500.60,72.70 500.68,75.48 500.75,78.44 500.83,81.47 500.91,84.47 501.00,87.35 501.10,90.00 501.18,91.87 501.26,93.66 501.35,95.36 501.45,97.01 501.56,98.62 501.70,100.20 501.81,101.57 501.89,102.93 501.99,104.26 502.14,105.54 502.36,106.73 502.70,107.80 503.04,108.55 503.43,109.23 503.86,109.86 504.35,110.45 504.90,111.02 505.50,111.60 506.38,112.31 507.40,112.97 508.50,113.61 509.65,114.23 510.80,114.86 511.90,115.50 512.99,116.18 514.12,116.87 515.24,117.57 516.33,118.25 517.36,118.90 518.30,119.50 518.91,119.87 519.50,120.19 520.05,120.50 520.58,120.82 521.06,121.18 521.50,121.60 521.89,122.13 522.19,122.74 522.45,123.38 522.72,124.04 523.02,124.69 523.40,125.30 523.93,125.93 524.52,126.52 525.16,127.09 525.83,127.67 526.52,128.27 527.20,128.90 528.01,129.70 528.85,130.53 529.71,131.39 530.57,132.27 531.44,133.14 532.30,134.00 533.16,134.92 534.02,135.92 534.89,136.92 535.75,137.83 536.59,138.59 537.40,139.10 537.90,139.27 538.39,139.34 538.87,139.35 539.34,139.32 539.82,139.29 540.30,139.30" stroke="#ff0000"/>
<polyline points="308.30,12.40 308.42,13.71 308.52,15.03 308.61,16.34 308.74,17.65 308.92,18.97 309.20,20.30 309.62,21.76 310.15,23.23 310.75,24.70 311.39,26.18 312.05,27.68 312.70,29.20 313.42,30.97 314.20,32.86 314.99,34.77 315.77,36.60 316.52,38.24 317.20,39.60 317.54,40.21 317.87,40.74 318.19,41.22 318.50,41.66 318.80,42.08 319.10,42.50 319.34,42.86 319.57,43.21 319.80,43.56 320.03,43.88 320.26,44.16 320.50,44.40 320.68,44.55 320.86,44.69 321.04,44.82 321.23,44.92 321.41,44.98 321.60,45.00 321.80,44.97 322.00,44.90 322.19,44.79 322.40,44.65 322.60,44.48 322.80,44.30 323.13,43.94 323.47,43.47 323.82,42.94 324.16,42.40 324.49,41.87 324.80,41.40 325.03,41.09 325.24,40.82 325.44,40.56 325.65,40.29 325.86,39.98 326.10,39.60 326.63,38.60 327.20,37.33 327.82,35.90 328.48,34.42 329.18,32.98 329.90,31.70 330.58,30.63 331.28,29.58 332.00,28.57 332.76,27.62 333.56,26.76 334.40,26.00 335.17,25.43 335.97,24.93 336.80,24.50 337.66,24.12 338.56,23.79 339.50,23.50 340.65,23.23 341.88,23.03 343.15,22.90 344.45,22.81 345.78,22.75 347.10,22.70 348.55,22.66 350.04,22.66 351.55,22.68 353.06,22.73 354.55,22.81 356.00,22.90 357.30,23.01 358.56,23.16 359.80,23.33 361.04,23.50 362.30,23.66 363.60,23.80 365.07,23.91 366.60,23.99 368.15,24.05 369.69,24.13 371.18,24.24 372.60,24.40 373.75,24.57 374.86,24.75 375.93,24.96 376.98,25.20 378.00,25.47 379.00,25.80 379.92,26.14 380.83,26.52 381.71,26.93 382.56,27.37 383.36,27.86 384.10,28.40 384.73,28.94 385.32,29.50 385.86,30.11 386.37,30.76 386.84,31.45 387.30,32.20 387.81,33.21 388.27,34.33 388.69,35.51 389.07,36.74 389.44,37.98 389.80,39.20 390.16,40.46 390.50,41.76 390.81,43.06 391.12,44.36 391.41,45.61 391.70,46.80 391.92,47.71 392.13,48.57 392.32,49.41 392.53,50.24 392.75,51.09 393.00,52.00 393.36,53.21 393.78,54.53 394.22,55.88 394.67,57.21 395.11,58.43 395.50,59.50 395.73,60.11 395.94,60.68 396.14,61.22 396.35,61.71 396.56,62.14 396.80,62.50 396.96,62.70 397.13,62.90 397.31,63.07 397.48,63.21 397.65,63.29 397.80,63.30 397.95,63.23 398.10,63.07 398.23,62.85 398.36,62.58 398.48,62.30 398.60,62.00 398.77,61.47 398.92,60.85 399.04,60.16 399.16,59.41 399.27,58.62 399.40,57.80 399.60,56.48 399.80,54.99 400.00,53.40 400.20,51.81 400.40,50.28 400.60,48.90 400.73,47.95 400.85,47.03 400.96,46.14 401.10,45.31 401.27,44.53 401.50,43.80 401.72,43.26 401.96,42.74 402.22,42.24 402.52,41.80 402.84,41.41 403.20,41.10 403.56,40.88 403.95,40.72 404.36,40.60 404.80,40.53 405.24,40.50 405.70,40.50 406.28,40.57 406.89,40.70 407.51,40.90 408.16,41.16 408.82,41.46 409.50,41.80 410.50,42.38 411.55,43.09 412.64,43.90 413.74,44.76 414.83,45.64 415.90,46.50 416.98,47.40 418.04,48.35 419.10,49.32 420.16,50.28 421.22,51.22 422.30,52.10 423.34,52.89 424.38,53.64 425.43,54.37 426.48,55.09 427.54,55.79 428.60,56.50 429.64,57.18 430.66,57.82 431.69,58.46 432.74,59.11 433.83,59.82 435.00,60.60 436.75,61.83 438.66,63.21 440.65,64.69 442.66,66.20 444.63,67.69 446.50,69.10 448.06,70.28 449.56,71.43 451.02,72.55 452.48,73.69 453.96,74.86 455.50,76.10 457.37,77.61 459.35,79.21 461.36,80.85 463.33,82.50 465.20,84.13 466.90,85.70 468.11,86.90 469.21,88.08 470.25,89.23 471.26,90.39 472.27,91.54 473.30,92.70 474.36,93.90 475.41,95.13 476.46,96.36 477.51,97.56 478.56,98.68 479.60,99.70 480.45,100.45 481.30,101.13 482.14,101.77 482.98,102.37 483.84,102.94 484.70,103.50 485.55,104.03 486.42,104.55 487.29,105.05 488.16,105.51 489.00,105.89 489.80,106.20 490.38,106.39 490.95,106.55 491.50,106.68 492.03,106.76 492.54,106.77 493.00,106.70 493.37,106.57 493.72,106.38 494.04,106.14 494.34,105.86 494.63,105.54 494.90,105.20 495.22,104.71 495.49,104.14 495.74,103.52 495.96,102.86 496.18,102.18 496.40,101.50 496.65,100.73 496.88,99.94 497.10,99.13 497.31,98.28 497.51,97.38 497.70,96.40 497.95,94.84 498.17,93.11 498.37,91.27 498.56,89.35 498.73,87.42 498.90,85.50 499.07,83.43 499.23,81.31 499.38,79.16 499.52,77.00 499.65,74.84 499.80,72.70 499.95,70.56 500.11,68.38 500.27,66.21 500.42,64.07 500.57,61.99 500.70,60.00 500.80,58.43 500.90,56.94 500.98,55.50 501.07,54.05 501.16,52.57 501.25,51.00 501.35,48.75 501.45,46.10 501.55,43.39 501.66,40.96 501.79,39.19 501.95,38.40 501.97,38.39 501.98,38.38 502.00,38.38 502.02,38.38 502.03,38.39 502.05,38.40 502.21,39.19 502.35,40.96 502.45,43.39 502.54,46.10 502.62,48.75 502.70,51.00 502.76,52.55 502.80,53.99 502.84,55.38 502.87,56.81 502.91,58.32 502.95,60.00 503.01,62.82 503.07,65.98 503.12,69.34 503.19,72.75 503.28,76.05 503.40,79.10 503.51,81.48 503.63,83.84 503.76,86.14 503.91,88.30 504.09,90.28 504.30,92.00 504.43,92.87 504.57,93.65 504.71,94.36 504.87,95.04 505.07,95.70 505.30,96.40 505.57,97.17 505.87,97.95 506.20,98.73 506.57,99.48 507.00,100.17 507.50,100.80 508.09,101.36 508.76,101.85 509.49,102.29 510.27,102.69 511.07,103.05 511.90,103.40 512.92,103.74 514.04,104.01 515.21,104.24 516.35,104.46 517.40,104.70 518.30,105.00 518.81,105.22 519.27,105.43 519.69,105.65 520.08,105.89 520.44,106.17 520.80,106.50 521.15,106.96 521.43,107.52 521.69,108.12 521.96,108.72 522.28,109.26 522.70,109.70 523.31,110.04 524.04,110.25 524.84,110.39 525.67,110.52 526.47,110.71 527.20,111.00 527.88,111.42 528.51,111.91 529.12,112.45 529.72,113.02 530.35,113.61 531.00,114.20 531.82,114.89 532.67,115.60 533.55,116.34 534.42,117.09 535.28,117.84 536.10,118.60 536.84,119.32 537.55,120.05 538.24,120.79 538.92,121.53 539.61,122.26 540.30,123.00" stroke="#00ff00"/>
<polyline points="308.30,65.60 308.42,66.93 308.49,68.28 308.57,69.63 308.69,70.96 308.89,72.26 309.20,73.50 309.63,74.62 310.17,75.69 310.77,76.72 311.42,77.74 312.07,78.76 312.70,79.80 313.32,80.89 313.94,82.02 314.57,83.14 315.21,84.23 315.85,85.26 316.50,86.20 317.03,86.90 317.57,87.57 318.12,88.21 318.66,88.79 319.19,89.29 319.70,89.70 320.01,89.91 320.32,90.07 320.62,90.21 320.92,90.32 321.21,90.42 321.50,90.50 321.74,90.57 321.98,90.62 322.21,90.67 322.44,90.70 322.67,90.71 322.90,90.70 323.14,90.67 323.37,90.61 323.60,90.53 323.83,90.44 324.07,90.33 324.30,90.20 324.59,90.02 324.88,89.80 325.16,89.56 325.46,89.30 325.77,89.01 326.10,88.70 326.65,88.17 327.25,87.56 327.89,86.90 328.55,86.22 329.22,85.55 329.90,84.90 330.60,84.24 331.31,83.58 332.04,82.92 332.79,82.27 333.57,81.66 334.40,81.10 335.35,80.54 336.36,80.02 337.40,79.54 338.48,79.10 339.58,78.68 340.70,78.30 341.92,77.94 343.17,77.62 344.45,77.35 345.75,77.10 347.07,76.85 348.40,76.60 349.85,76.31 351.34,76.00 352.84,75.70 354.35,75.43 355.84,75.22 357.30,75.10 358.62,75.07 359.93,75.09 361.23,75.17 362.51,75.29 363.77,75.43 365.00,75.60 366.11,75.77 367.19,75.96 368.25,76.18 369.31,76.42 370.35,76.70 371.40,77.00 372.48,77.35 373.56,77.73 374.64,78.15 375.70,78.59 376.72,79.04 377.70,79.50 378.53,79.89 379.34,80.28 380.13,80.68 380.88,81.11 381.57,81.57 382.20,82.10 382.72,82.64 383.17,83.21 383.58,83.83 383.96,84.48 384.33,85.17 384.70,85.90 385.18,86.92 385.64,88.04 386.09,89.22 386.51,90.45 386.92,91.68 387.30,92.90 387.67,94.16 388.02,95.47 388.35,96.79 388.66,98.09 388.94,99.34 389.20,100.50 389.37,101.32 389.50,102.09 389.62,102.83 389.75,103.55 389.90,104.27 390.10,105.00 390.37,105.76 390.68,106.52 391.02,107.27 391.37,108.02 391.70,108.76 392.00,109.50 392.24,110.20 392.47,110.94 392.68,111.66 392.89,112.35 393.09,112.98 393.30,113.50 393.42,113.77 393.54,114.05 393.65,114.30 393.77,114.51 393.88,114.65 394.00,114.70 394.12,114.65 394.23,114.51 394.35,114.31 394.47,114.05 394.58,113.78 394.70,113.50 394.92,112.92 395.15,112.21 395.38,111.42 395.60,110.59 395.81,109.77 396.00,109.00 396.16,108.34 396.30,107.69 396.43,107.06 396.55,106.41 396.67,105.73 396.80,105.00 396.96,103.93 397.11,102.75 397.26,101.52 397.42,100.29 397.60,99.10 397.80,98.00 397.97,97.16 398.13,96.32 398.31,95.51 398.52,94.76 398.77,94.08 399.10,93.50 399.39,93.12 399.72,92.77 400.07,92.47 400.45,92.22 400.86,92.03 401.30,91.90 401.92,91.86 402.61,91.94 403.35,92.12 404.12,92.37 404.91,92.64 405.70,92.90 406.70,93.25 407.75,93.68 408.83,94.15 409.92,94.63 411.01,95.09 412.10,95.50 413.15,95.86 414.20,96.19 415.26,96.50 416.32,96.81 417.40,97.10 418.50,97.40 419.72,97.70 420.96,97.98 422.22,98.26 423.50,98.54 424.79,98.85 426.10,99.20 427.58,99.63 429.09,100.09 430.63,100.58 432.16,101.11 433.66,101.68 435.10,102.30 436.43,102.96 437.73,103.67 439.01,104.43 440.25,105.20 441.48,105.97 442.70,106.70 443.80,107.34 444.88,107.97 445.94,108.60 446.99,109.22 448.04,109.85 449.10,110.50 450.15,111.14 451.19,111.75 452.22,112.37 453.27,113.03 454.36,113.76 455.50,114.60 457.28,116.06 459.19,117.80 461.18,119.68 463.19,121.59 465.15,123.41 467.00,125.00 468.41,126.14 469.79,127.24 471.15,128.27 472.47,129.22 473.75,130.07 475.00,130.80 475.89,131.24 476.76,131.60 477.61,131.91 478.45,132.18 479.28,132.44 480.10,132.70 480.86,132.98 481.62,133.30 482.37,133.60 483.11,133.85 483.82,134.00 484.50,134.00 485.09,133.87 485.65,133.65 486.20,133.34 486.73,132.97 487.23,132.55 487.70,132.10 488.21,131.49 488.67,130.79 489.09,130.02 489.49,129.21 489.89,128.39 490.30,127.60 490.72,126.79 491.13,125.95 491.53,125.10 491.94,124.26 492.36,123.46 492.80,122.70 493.21,122.08 493.64,121.50 494.08,120.94 494.52,120.39 494.96,119.85 495.40,119.30 495.83,118.78 496.27,118.27 496.70,117.78 497.13,117.26 497.53,116.71 497.90,116.10 498.30,115.28 498.65,114.38 498.97,113.44 499.27,112.45 499.54,111.43 499.80,110.40 500.08,109.19 500.33,107.92 500.55,106.61 500.75,105.29 500.93,103.98 501.10,102.70 501.23,101.35 501.34,99.83 501.43,98.31 501.52,96.99 501.60,96.05 501.70,95.70 501.81,96.04 501.92,96.95 502.04,98.24 502.16,99.75 502.28,101.29 502.40,102.70 502.55,104.31 502.70,106.01 502.85,107.77 503.00,109.54 503.15,111.26 503.30,112.90 503.42,114.24 503.53,115.55 503.63,116.83 503.74,118.08 503.86,119.30 504.00,120.50 504.13,121.53 504.26,122.54 504.40,123.53 504.55,124.50 504.72,125.45 504.90,126.40 505.06,127.29 505.20,128.19 505.35,129.07 505.54,129.92 505.82,130.74 506.20,131.50 506.74,132.23 507.39,132.90 508.13,133.53 508.93,134.12 509.76,134.71 510.60,135.30 511.60,135.96 512.69,136.60 513.83,137.23 514.95,137.84 516.03,138.47 517.00,139.10 517.72,139.62 518.40,140.13 519.05,140.65 519.66,141.17 520.25,141.72 520.80,142.30 521.28,142.89 521.72,143.51 522.12,144.15 522.52,144.80 522.94,145.45 523.40,146.10 523.98,146.83 524.59,147.56 525.24,148.31 525.89,149.04 526.55,149.78 527.20,150.50 527.83,151.19 528.45,151.86 529.08,152.52 529.72,153.19 530.35,153.88 531.00,154.60 531.73,155.45 532.48,156.32 533.23,157.23 533.98,158.14 534.74,159.07 535.50,160.00 536.29,160.98 537.09,161.97 537.89,162.98 538.70,163.99 539.50,165.00 540.30,166.00" stroke="#000000"/>
</g>
<line x1="446.6" y1="22.1" x2="424.41" y2="44.38" stroke="#000" stroke-width="0.9"/><polygon points="421.3,47.5 423.45,43.43 425.36,45.34" fill="#000"/>
<line x1="447.6" y1="44.9" x2="424.69" y2="68.07" stroke="#000" stroke-width="0.9"/><polygon points="421.6,71.2 423.73,67.12 425.65,69.02" fill="#000"/>
<line x1="449.1" y1="67.8" x2="424.81" y2="90.50" stroke="#000" stroke-width="0.9"/><polygon points="421.6,93.5 423.89,89.51 425.74,91.48" fill="#000"/>
<line x1="319.75" y1="122.75" x2="323.22" y2="103.33" stroke="#000" stroke-width="0.9"/><polygon points="324,99 324.55,103.57 321.90,103.09" fill="#000"/>
<line x1="387.1" y1="139.1" x2="390.02" y2="122.83" stroke="#000" stroke-width="0.9"/><polygon points="390.8,118.5 391.35,123.07 388.69,122.59" fill="#000"/>
<line x1="492.8" y1="152.8" x2="496.42" y2="135.11" stroke="#000" stroke-width="0.9"/><polygon points="497.3,130.8 497.74,135.38 495.10,134.84" fill="#000"/>
<rect x="297.6" y="7.1" width="242.69999999999993" height="194.8" fill="none" stroke="#787878" stroke-width="1.15"/>
<path d="M297.60,201.9v-3.6 M322.00,201.9v-1.6 M346.40,201.9v-3.6 M370.80,201.9v-1.6 M395.20,201.9v-3.6 M419.60,201.9v-1.6 M444.00,201.9v-3.6 M468.40,201.9v-1.6 M492.80,201.9v-3.6 M517.20,201.9v-1.6" stroke="#5a5a5a" stroke-width="0.8" fill="none"/>
<text x="414.1" y="267.4" text-anchor="middle" font-family="'Liberation Serif',serif" font-size="13px" fill="#111">(<tspan font-weight="bold">b</tspan>)</text>
</svg>
</body></html>
